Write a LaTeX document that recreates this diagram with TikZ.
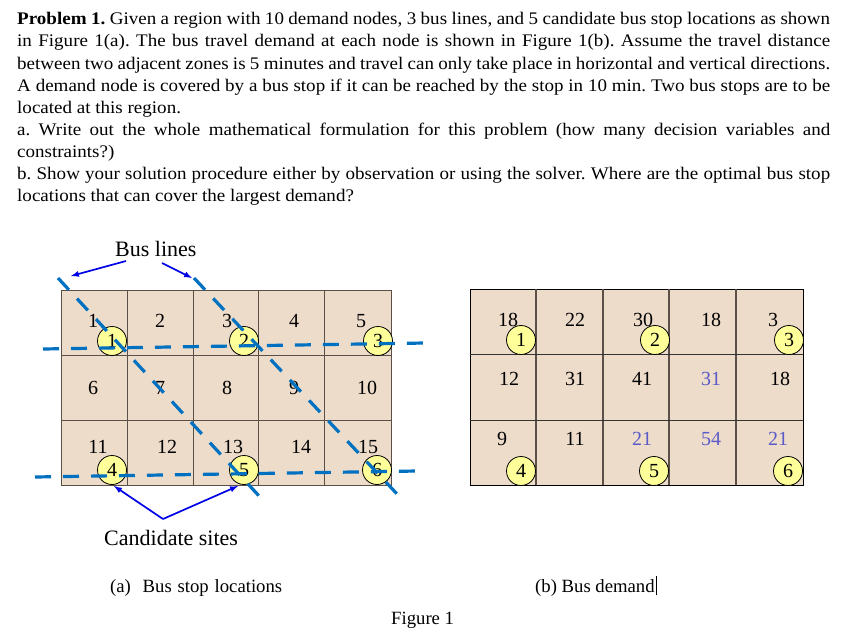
\documentclass[tikz,border=0pt]{standalone}
\usepackage[rgb]{xcolor}
\usepackage{fontspec}
\setmainfont{Liberation Serif}
\newfontfamily\bodyfont[FakeStretch=1.075]{Liberation Serif}
\definecolor{zonefill}{HTML}{EEDCCB}
\definecolor{zoneline}{HTML}{5A5048}
\definecolor{stopfill}{HTML}{FFFF99}
\definecolor{busline}{HTML}{0070C0}
\definecolor{pointer}{HTML}{0000E6}
\definecolor{covered}{HTML}{5A5AC8}
\tikzset{
  bodyline/.style={anchor=base west, inner sep=0pt, font=\bodyfont\frenchspacing\fontsize{17.7}{20}\selectfont},
  zoneno/.style={inner sep=0pt, font=\fontsize{20}{22}\selectfont},
  demand/.style={zoneno},
  hot/.style={zoneno, text=covered},
  stop/.style={circle, draw=black, fill=stopfill, line width=0.8pt, minimum size=29pt, inner sep=0pt, font=\fontsize{20}{22}\selectfont},
  route/.style={busline, line width=3.2pt, dash pattern=on 16pt off 12pt},
  pointerline/.style={-latex, pointer, line width=1.7pt},
  biglabel/.style={anchor=base west, inner sep=0pt, font=\fontsize{22}{24}\selectfont},
  caption/.style={anchor=base west, inner sep=0pt, font=\frenchspacing\fontsize{18.7}{20}\selectfont}
}
\begin{document}
\begin{tikzpicture}[x=1pt, y=-1pt]
\useasboundingbox (0,0) rectangle (861,642);

%% Problem text
\path
(17,25) node[bodyline](line1) {\makebox[813pt][s]{\textbf{Problem 1.} Given a region with 10 demand nodes, 3 bus lines, and 5 candidate bus stop locations as shown}}
(17,47) node[bodyline](line2) {\makebox[813pt][s]{in Figure 1(a). The bus travel demand at each node is shown in Figure 1(b). Assume the travel distance}}
(17,69) node[bodyline](line3) {\makebox[813pt][s]{between two adjacent zones is 5 minutes and travel can only take place in horizontal and vertical directions.}}
(17,91) node[bodyline](line4) {\makebox[813pt][s]{A demand node is covered by a bus stop if it can be reached by the stop in 10 min. Two bus stops are to be}}
(17,113) node[bodyline](line5) {located at this region.}
(17,135) node[bodyline](line6) {\makebox[813pt][s]{a. Write out the whole mathematical formulation for this problem (how many decision variables and}}
(17,157) node[bodyline](line7) {constraints?)}
(17,179) node[bodyline](line8) {\makebox[813pt][s]{b. Show your solution procedure either by observation or using the solver. Where are the optimal bus stop}}
(17,201) node[bodyline](line9) {locations that can cover the largest demand?};

%% Zones of figure (a)
\filldraw[fill=zonefill, draw=zoneline, line width=1pt] (61,290) rectangle (391,485);
\draw[zoneline, line width=1pt] (127,290) -- (127,485) (193,290) -- (193,485) (258,290) -- (258,485) (324,290) -- (324,485);
\draw[zoneline, line width=1pt] (61,355) -- (391,355) (61,420) -- (391,420);

\path
(93,321) node[zoneno](zone1) {1}
(160,321) node[zoneno](zone2) {2}
(227,321) node[zoneno](zone3) {3}
(294,321) node[zoneno](zone4) {4}
(361,321) node[zoneno](zone5) {5}
(93,388) node[zoneno](zone6) {6}
(160,388) node[zoneno](zone7) {7}
(227,388) node[zoneno](zone8) {8}
(294,388) node[zoneno](zone9) {9}
(367,388) node[zoneno](zone10) {10}
(98,447) node[zoneno](zone11) {11}
(167,447) node[zoneno](zone12) {12}
(233,447) node[zoneno](zone13) {13}
(301,447) node[zoneno](zone14) {14}
(368,447) node[zoneno](zone15) {15};

\path
(112,341) node[stop](site1) {1}
(244,341) node[stop](site2) {2}
(378,341) node[stop](site3) {3}
(112,470) node[stop](site4) {4}
(244,470) node[stop](site5) {5}
(377,470) node[stop](site6) {6};

%% Bus lines over the zones
\coordinate (routeAstart) at (58,278);
\coordinate (routeAend) at (260,497);
\coordinate (routeBstart) at (194,278);
\coordinate (routeBend) at (398,495);
\coordinate (routeCstart) at (43,349);
\coordinate (routeCend) at (425,343);
\coordinate (routeDstart) at (35,477);
\coordinate (routeDend) at (417,471);
\draw[route] (routeAstart) -- (routeAend);
\draw[route] (routeBstart) -- (routeBend);
\draw[route] (routeCstart) -- (routeCend);
\draw[route] (routeDstart) -- (routeDend);

%% Labels with their arrows
\path
(115,256) node[biglabel](buslabel) {Bus lines}
(104,545) node[biglabel](sitelabel) {Candidate sites}
(110,592) node[caption](capA) {\makebox[172pt][s]{(a)\ \ Bus stop locations}}
(535,592) node[caption](capB) {(b) Bus demand\kern1.5pt\rule[-3pt]{1pt}{19pt}}
(391,624) node[caption](capFig) {Figure 1};

\coordinate (busleftfrom) at (126,261);
\coordinate (busleftto) at (71,276);
\coordinate (busrightfrom) at (162,263);
\coordinate (busrightto) at (192,278);
\coordinate (siteapex) at (163,519);
\coordinate (siteleftto) at (114,486);
\coordinate (siterightto) at (238,486);
\draw[pointerline] (busleftfrom) -- (busleftto);
\draw[pointerline] (busrightfrom) -- (busrightto);
\draw[pointerline] (siteapex) -- (siteleftto);
\draw[pointerline] (siteapex) -- (siterightto);

%% Zones of figure (b)
\filldraw[fill=zonefill, draw=black, line width=1pt] (470,289) rectangle (803,485);
\draw[zoneline, line width=1.1pt] (536,289) -- (536,485) (603,289) -- (603,485) (669,289) -- (669,485) (736,289) -- (736,485);
\draw[black!80, line width=0.9pt] (470,354) -- (803,354) (470,420) -- (803,420);

\path
(508,320) node[demand](need1) {18}
(575,320) node[demand](need2) {22}
(643,320) node[demand](need3) {30}
(711,320) node[demand](need4) {18}
(773,320) node[demand](need5) {3}
(509,379) node[demand](need6) {12}
(575,379) node[demand](need7) {31}
(642,379) node[demand](need8) {41}
(711,379) node[hot](need9) {31}
(780,379) node[demand](need10) {18}
(502,439) node[demand](need11) {9}
(575,439) node[demand](need12) {11}
(642,439) node[hot](need13) {21}
(711,439) node[hot](need14) {54}
(778,439) node[hot](need15) {21};

\path
(521,340) node[stop](stop1) {1}
(655,340) node[stop](stop2) {2}
(789,340) node[stop](stop3) {3}
(521,471) node[stop](stop4) {4}
(654,471) node[stop](stop5) {5}
(788,471) node[stop](stop6) {6};

\end{tikzpicture}
\end{document}
